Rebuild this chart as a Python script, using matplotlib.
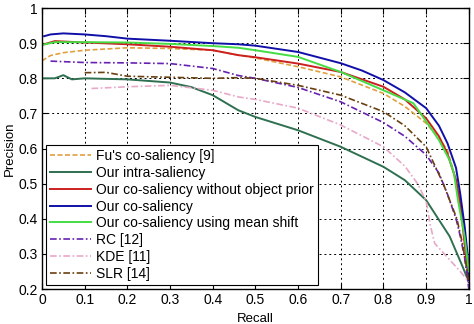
import matplotlib
matplotlib.use("Agg")
import matplotlib.pyplot as plt

plt.rcParams['font.family'] = ['Liberation Sans', 'DejaVu Sans']

# precision-recall curves
fu_r = [0.0, 0.02, 0.05, 0.1, 0.2, 0.3, 0.4, 0.46, 0.5, 0.6, 0.7, 0.8, 0.85, 0.9, 0.93, 0.95, 0.97, 0.98, 0.99, 1.0]
fu_p = [0.85, 0.865, 0.873, 0.88, 0.887, 0.885, 0.88, 0.866, 0.858, 0.833, 0.804, 0.757, 0.72, 0.672, 0.63, 0.595, 0.51, 0.45, 0.35, 0.22]

intra_r = [0.0, 0.03, 0.05, 0.07, 0.1, 0.2, 0.3, 0.35, 0.4, 0.46, 0.5, 0.6, 0.7, 0.8, 0.85, 0.9, 0.955, 0.985, 1.0]
intra_p = [0.80, 0.80, 0.809, 0.797, 0.80, 0.797, 0.788, 0.775, 0.752, 0.709, 0.69, 0.652, 0.605, 0.548, 0.51, 0.453, 0.35, 0.265, 0.22]

noprior_r = [0.0, 0.03, 0.1, 0.2, 0.3, 0.4, 0.46, 0.5, 0.6, 0.7, 0.8, 0.85, 0.9, 0.93, 0.95, 0.97, 0.98, 0.99, 1.0]
noprior_p = [0.895, 0.906, 0.902, 0.897, 0.89, 0.88, 0.866, 0.86, 0.842, 0.818, 0.776, 0.74, 0.686, 0.635, 0.585, 0.51, 0.44, 0.33, 0.22]

co_r = [0.005, 0.02, 0.05, 0.1, 0.15, 0.2, 0.3, 0.4, 0.46, 0.5, 0.6, 0.7, 0.75, 0.8, 0.85, 0.9, 0.93, 0.95, 0.97, 0.98, 0.99, 0.997, 1.0]
co_p = [0.92, 0.925, 0.928, 0.925, 0.92, 0.913, 0.907, 0.90, 0.897, 0.893, 0.875, 0.843, 0.822, 0.795, 0.76, 0.715, 0.665, 0.615, 0.545, 0.47, 0.38, 0.30, 0.22]

ms_r = [0.0, 0.03, 0.1, 0.2, 0.3, 0.4, 0.46, 0.5, 0.6, 0.7, 0.8, 0.87, 0.91, 0.93, 0.955, 0.965, 0.975, 0.99, 1.0]
ms_p = [0.895, 0.903, 0.903, 0.902, 0.898, 0.892, 0.887, 0.88, 0.861, 0.818, 0.766, 0.729, 0.66, 0.624, 0.567, 0.53, 0.45, 0.35, 0.25]

rc_r = [0.02, 0.1, 0.2, 0.3, 0.4, 0.46, 0.5, 0.6, 0.7, 0.8, 0.85, 0.9, 0.93, 0.95, 0.97, 0.98, 0.99, 1.0]
rc_p = [0.849, 0.845, 0.844, 0.842, 0.828, 0.808, 0.80, 0.774, 0.733, 0.674, 0.635, 0.582, 0.53, 0.47, 0.40, 0.35, 0.29, 0.20]

kde_r = [0.116, 0.2, 0.3, 0.4, 0.46, 0.5, 0.6, 0.7, 0.8, 0.85, 0.88, 0.9, 0.91, 0.92, 0.95, 0.98, 1.0]
kde_p = [0.771, 0.776, 0.78, 0.766, 0.747, 0.74, 0.715, 0.667, 0.605, 0.55, 0.50, 0.45, 0.38, 0.33, 0.29, 0.25, 0.22]

slr_r = [0.1, 0.15, 0.2, 0.3, 0.4, 0.46, 0.5, 0.6, 0.7, 0.8, 0.85, 0.9, 0.94, 0.972, 0.985, 1.0]
slr_p = [0.816, 0.817, 0.806, 0.803, 0.80, 0.802, 0.80, 0.78, 0.752, 0.705, 0.665, 0.605, 0.50, 0.40, 0.33, 0.22]

dash = (0, (3, 1.5))
dashdot = (0, (4, 1.5, 1, 1.5))

fig = plt.figure(figsize=(4.74, 3.24), dpi=100)
ax = fig.add_axes([0.0886, 0.108, 0.9005, 0.867])

ax.plot(fu_r, fu_p, color='#E0A040', ls=dash, lw=1.2, label="Fu's co-saliency [9]")
ax.plot(intra_r, intra_p, color='#2E7050', lw=1.4, label='Our intra-saliency')
ax.plot(noprior_r, noprior_p, color='#CC2020', lw=1.4, label='Our co-saliency without object prior')
ax.plot(co_r, co_p, color='#1010A8', lw=1.4, label='Our co-saliency')
ax.plot(ms_r, ms_p, color='#44DD44', lw=1.4, label='Our co-saliency using mean shift')
ax.plot(rc_r, rc_p, color='#6622B0', ls=dashdot, lw=1.2, label='RC [12]')
ax.plot(kde_r, kde_p, color='#E8A8C8', ls=dashdot, lw=1.2, label='KDE [11]')
ax.plot(slr_r, slr_p, color='#6B4010', ls=dashdot, lw=1.2, label='SLR [14]')

ax.set_xlim(0, 1)
ax.set_ylim(0.2, 1)
ax.set_xticks([0, 0.1, 0.2, 0.3, 0.4, 0.5, 0.6, 0.7, 0.8, 0.9, 1])
ax.set_xticklabels(['0', '0.1', '0.2', '0.3', '0.4', '0.5', '0.6', '0.7', '0.8', '0.9', '1'])
ax.set_yticks([0.2, 0.3, 0.4, 0.5, 0.6, 0.7, 0.8, 0.9, 1])
ax.set_yticklabels(['0.2', '0.3', '0.4', '0.5', '0.6', '0.7', '0.8', '0.9', '1'])
ax.tick_params(direction='in', top=True, right=True, labelsize=10, length=4, pad=3)
ax.grid(True, color='black', ls=(0, (2, 3)), lw=0.7)
for s in ax.spines.values():
    s.set_linewidth(1.0)

ax.set_xlabel('Recall', fontsize=9.5, labelpad=4)
ax.set_ylabel('Precision', fontsize=9.5, labelpad=2)

leg = ax.legend(loc='lower left', fontsize=10, handlelength=2.9, handletextpad=0.4,
                labelspacing=0.2, borderpad=0.3, borderaxespad=0.3,
                fancybox=False, framealpha=1, edgecolor='black')
leg.get_frame().set_linewidth(0.8)

fig.savefig('out.png', dpi=100)
